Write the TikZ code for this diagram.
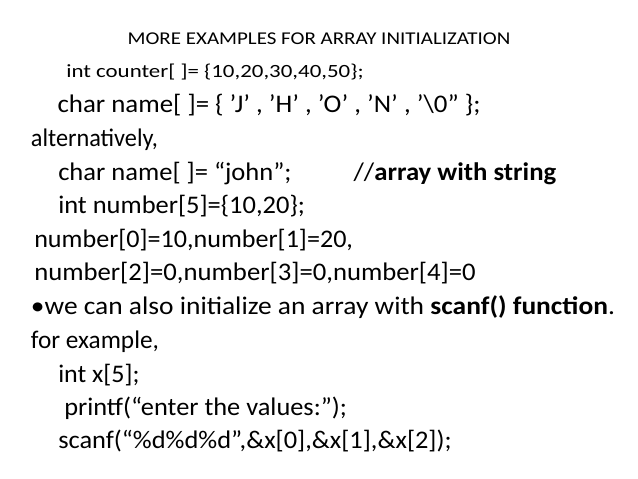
\documentclass[tikz,border=0pt]{standalone}
\usepackage{fontspec}
\usepackage{graphicx}
\setmainfont{Carlito}
\newcommand{\fitw}[2]{\resizebox{#1pt}{\height}{#2}}
\begin{document}
\begin{tikzpicture}[x=1pt,y=-1pt,
  big/.style={anchor=west,inner sep=0pt,font=\fontsize{19}{21}\selectfont},
  small/.style={anchor=west,inner sep=0pt,font=\fontsize{14}{16}\selectfont}]
\useasboundingbox (0,0) rectangle (478.5,358.5);
\node[inner sep=0pt,font=\fontsize{13.5}{15}\selectfont] (t) at (239.25,29) {\fitw{287}{MORE EXAMPLES FOR ARRAY INITIALIZATION}};
\node[small] (l1) at (49.5,54) {\fitw{223}{int counter[ ]= \{10,20,30,40,50\};}};
\node[big] (l2) at (43,79) {\fitw{317}{char name[ ]=  \{ ’J’ , ’H’ , ’O’ , ’N’ , ’\textbackslash0” \};}};
\node[big] (l3) at (23,104.5) {\fitw{95.25}{alternatively,}};
\node[big] (l4) at (43.5,130.5) {\fitw{175}{char name[ ]= “john”;}};
\node[big] (l4b) at (265,130.5) {\fitw{152}{//\textbf{array with string}}};
\node[big] (l5) at (43.5,154.5) {\fitw{185}{int number[5]=\{10,20\};}};
\node[big] (l6) at (25.5,180) {\fitw{239}{number[0]=10,number[1]=20,}};
\node[big] (l7) at (25.5,205) {\fitw{331}{number[2]=0,number[3]=0,number[4]=0}};
\node[big] (l8) at (23,230.5) {\fitw{438}{•we can also initialize an array with \textbf{scanf() function}.}};
\node[big] (l9) at (23,256) {\fitw{96}{for example,}};
\node[big] (l10) at (43.5,281) {\fitw{61}{int x[5];}};
\node[big] (l11) at (48,306.5) {\fitw{212}{printf(“enter the values:”);}};
\node[big] (l12) at (43.5,331) {\fitw{295}{scanf(“\%d\%d\%d”,\&x[0],\&x[1],\&x[2]);}};
\end{tikzpicture}
\end{document}
